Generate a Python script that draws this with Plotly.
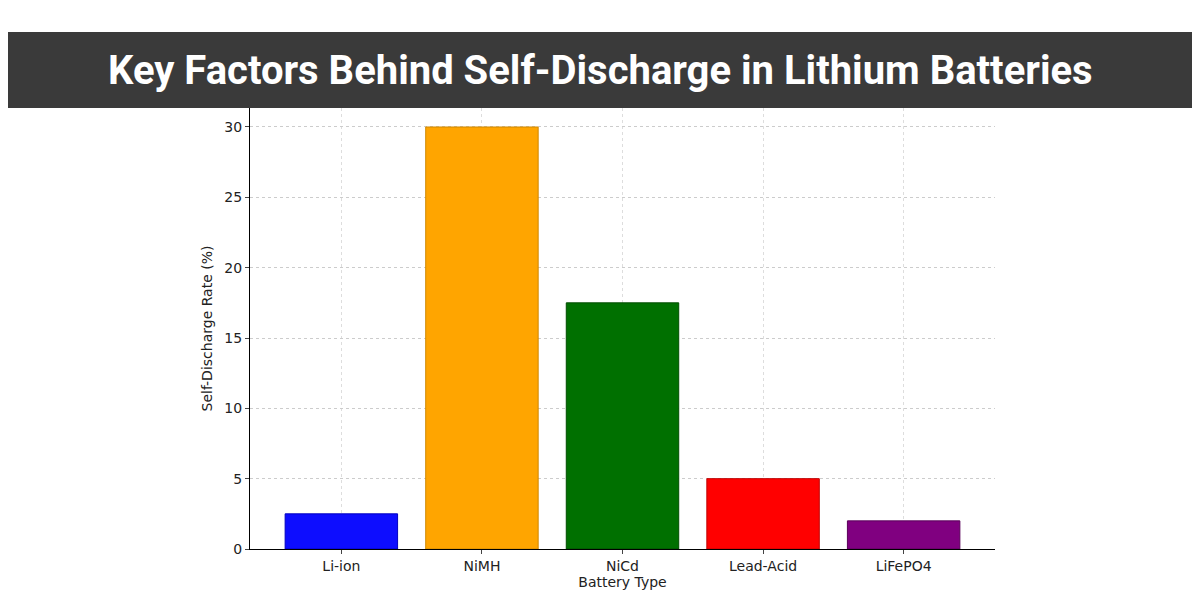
import plotly.graph_objects as go

battery_types = ["Li-ion", "NiMH", "NiCd", "Lead-Acid", "LiFePO4"]
self_discharge = [2.5, 30, 17.5, 5, 2]
bar_colors = ["#0d0dff", "#ffa500", "#007000", "#ff0000", "#800080"]
edge_colors = ["#0000c0", "#d08800", "#004d00", "#c00000", "#5a005a"]

# page body has an 8px margin, so the figure is drawn 8px smaller
W, H = 1192, 592
L, R, T, B = 242, 205, 100, 51
pw, ph = W - L - R, H - T - B

fig = go.Figure(go.Bar(
    x=battery_types, y=self_discharge, width=0.8,
    marker=dict(color=bar_colors, line=dict(color=edge_colors, width=1)),
))

# dark title banner across the top
fig.add_shape(type="rect", xref="paper", yref="paper",
              x0=-(L + 10) / pw, x1=(W - L + 10) / pw, y0=1, y1=1 + 76 / ph,
              fillcolor="#3a3a3a", line_width=0, layer="above")
fig.add_annotation(text="<b>Key Factors Behind Self-Discharge in Lithium Batteries</b>",
                   xref="paper", yref="paper", x=(592 - L) / pw, y=1 + 38 / ph,
                   xanchor="center", yanchor="middle", showarrow=False,
                   font=dict(color="white", size=40, family="Liberation Sans Narrow, Roboto"))

axis_font = dict(family="DejaVu Sans", size=14, color="#222")
fig.update_layout(
    width=W, height=H, margin=dict(l=L, r=R, t=T, b=B),
    plot_bgcolor="white", paper_bgcolor="white", showlegend=False,
    xaxis=dict(range=[-0.65, 4.65], showline=True, linecolor="black",
               showgrid=True, gridcolor="#dddddd", griddash="dot",
               ticks="outside", ticklen=4, tickfont=axis_font,
               title=dict(text="Battery Type", font=axis_font, standoff=4)),
    yaxis=dict(range=[0, 31.35], dtick=5, showline=True, linecolor="black",
               showgrid=True, gridcolor="#cccccc", griddash="dot", zeroline=False,
               ticks="outside", ticklen=4, tickfont=axis_font,
               title=dict(text="Self-Discharge Rate (%)", font=axis_font, standoff=8)),
)

fig.write_html("out.html")
